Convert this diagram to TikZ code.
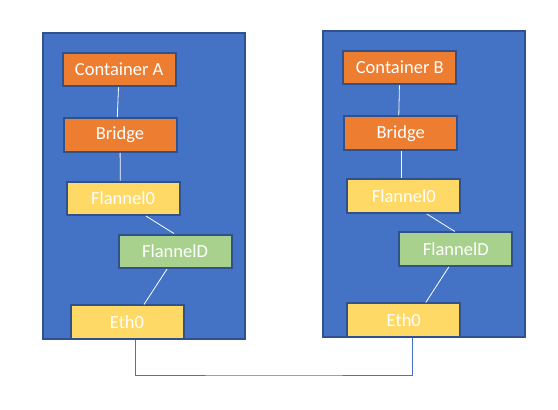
\documentclass[tikz,border=0pt]{standalone}
\usepackage{fontspec}
\setmainfont{Carlito}
\usepackage{tikz}
\usetikzlibrary{calc}

\definecolor{hostblue}{HTML}{4472C4}
\definecolor{edgeblue}{HTML}{2F528F}
\definecolor{boxorange}{HTML}{ED7D31}
\definecolor{boxyellow}{HTML}{FFD966}
\definecolor{boxgreen}{HTML}{A9D18E}

\begin{document}
\begin{tikzpicture}[x=1pt,y=-1pt]
\tikzset{host/.style={draw=edgeblue,line width=2pt,fill=hostblue,inner sep=0pt,minimum width=202pt,minimum height=306pt},
  iface/.style={draw=edgeblue,line width=2pt,inner sep=0pt,minimum width=113pt,minimum height=33.5pt,text=white,font=\fontsize{18.5}{20}\selectfont},
  wire/.style={white,line width=0.8pt}}
\useasboundingbox (0,0) rectangle (558,410);
\node (11) at (143.7,185.9) [host] {};
\node (12) at (424.4,183.7) [host] {};
\node (1) at (119.2,69.5) [iface,fill=boxorange] {Container A};
\node (2) at (120,135) [iface,fill=boxorange] {Bridge};
\node (3) at (123,198.3) [iface,fill=boxyellow] {Flannel0};
\node (4) at (175,251.3) [iface,fill=boxgreen] {FlannelD};
\node (5) at (127,322.2) [iface,fill=boxyellow] {Eth0};
\node (6) at (399.8,67.5) [iface,fill=boxorange] {Container B};
\node (7) at (400.8,133.2) [iface,fill=boxorange] {Bridge};
\node (8) at (403.8,196.2) [iface,fill=boxyellow] {Flannel0};
\node (9) at (455.8,249.2) [iface,fill=boxgreen] {FlannelD};
\node (10) at (403.8,320.2) [iface,fill=boxyellow] {Eth0};
\coordinate (13) at (274,375);

\path
(1) edge [wire] ($(2.north)+(-2.7,0)$)
(2) edge [wire] ($(3.north)+(-2.7,0)$)
($(3.south)+(23,0)$) edge [wire] ($(4.north)+(-1,0)$)
($(4.south)+(-8,0)$) edge [wire] ($(5.north)+(17,0)$)
(6) edge [wire] ($(7.north)+(-2,0)$)
($(7.south)+(0.5,0)$) edge [wire] ($(8.north)+(-2.5,0)$)
($(8.south)+(23,0)$) edge [wire] ($(9.north)+(-1,0)$)
($(9.south)+(-7,0)$) edge [wire] ($(10.north)+(22,0)$);
\draw [hostblue,line width=0.8pt] ($(5.south)+(8,0)$) |- (13) -| ($(10.south)+(8.5,0)$);
\end{tikzpicture}
\end{document}
